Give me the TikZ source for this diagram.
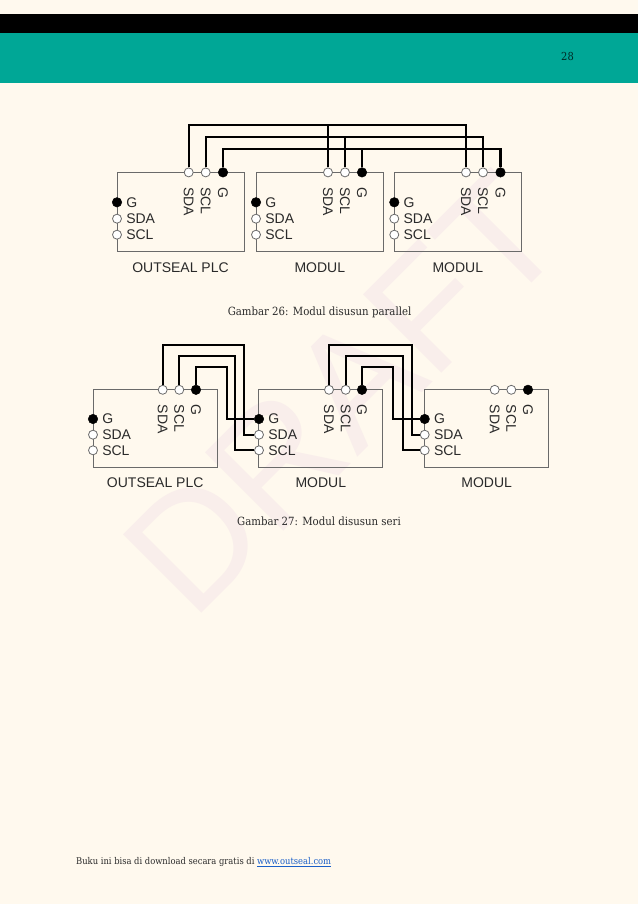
\documentclass[tikz,border=0pt]{standalone}
\usepackage{fontspec}
\usepackage{xcolor}
\usepackage{tikz}
\usetikzlibrary{positioning}
\setmainfont{Liberation Sans}
\newfontfamily\capfont{DejaVu Serif Condensed}
\definecolor{paper}{HTML}{FFF9EE}
\definecolor{band}{HTML}{00A796}
\definecolor{mark}{HTML}{F9EEEB}
\definecolor{ink}{HTML}{2A2A2A}
\definecolor{edge}{HTML}{6A6A6A}
\definecolor{linkblue}{HTML}{1A5FC8}

\tikzset{
  unit/.style={draw=edge, line width=1pt, inner sep=0pt, minimum height=79.5pt},
  pinon/.style={circle, draw=black, fill=black, line width=0.5pt, inner sep=0pt, minimum size=9.5pt},
  pinoff/.style={circle, draw=edge, fill=white, line width=0.8pt, inner sep=0pt, minimum size=9pt},
  side/.style={text=ink, font=\fontsize{14}{14}\selectfont, inner sep=0pt},
  top/.style={anchor=west, rotate=-90, text=ink, font=\fontsize{14}{14}\selectfont, inner sep=0pt},
  title/.style={text=ink, font=\fontsize{14}{14}\selectfont, inner sep=0pt},
  wire/.style={draw=black, line width=2.2pt},
  caption/.style={text=ink, font=\capfont\fontsize{11.3}{11.3}\selectfont, inner sep=0pt}
}

\begin{document}
\begin{tikzpicture}[x=1pt, y=-1pt, label distance=4.2pt]
  \useasboundingbox (0,0) rectangle (638,904);
  \fill[paper] (0,0) rectangle (638,904);
  \fill[black] (0,13.6) rectangle (638,33.4);
  \fill[band] (0,33.4) rectangle (638,83.3);
  \node[inner sep=0pt, text=mark, rotate=45, anchor=base west, font=\fontsize{161}{161}\selectfont] (draft) at (192.5,622.5) {DRAFT};
  \node[inner sep=0pt, text=black!75!band, font=\capfont\fontsize{11}{11}\selectfont] (page) at (567.5,56) {28};

  % parallel
  \node[unit, minimum width=127pt] (P) at (180.5,212.2) {};
  \node[unit, minimum width=127.5pt] (M1) at (319.8,212.2) {};
  \node[unit, minimum width=127pt] (M2) at (457.8,212.2) {};
  \node[title, below=10pt of P] (Pname) {OUTSEAL PLC};
  \node[title, below=10pt of M1] (M1name) {MODUL};
  \node[title, below=10pt of M2] (M2name) {MODUL};

  \node[pinoff] (Pa) at (188.7,172.4) {};
  \node[pinoff] (Pc) at (205.7,172.4) {};
  \node[pinon] (Pg) at (223,172.4) {};
  \node[top] (Pat) at (188.7,187.3) {SDA};
  \node[top] (Pct) at (205.7,187.3) {SCL};
  \node[top] (Pgt) at (223,187.3) {G};
  \node[pinon, label={[side]right:G}] (Plg) at (117,202.3) {};
  \node[pinoff, label={[side]right:SDA}] (Pla) at (117,218.7) {};
  \node[pinoff, label={[side]right:SCL}] (Plc) at (117,234.7) {};

  \node[pinoff] (M1a) at (328,172.4) {};
  \node[pinoff] (M1c) at (345,172.4) {};
  \node[pinon] (M1g) at (362,172.4) {};
  \node[top] (M1at) at (328,187.3) {SDA};
  \node[top] (M1ct) at (345,187.3) {SCL};
  \node[top] (M1gt) at (362,187.3) {G};
  \node[pinon, label={[side]right:G}] (M1lg) at (256,202.3) {};
  \node[pinoff, label={[side]right:SDA}] (M1la) at (256,218.7) {};
  \node[pinoff, label={[side]right:SCL}] (M1lc) at (256,234.7) {};

  \node[pinoff] (M2a) at (466,172.4) {};
  \node[pinoff] (M2c) at (483,172.4) {};
  \node[pinon] (M2g) at (500.5,172.4) {};
  \node[top] (M2at) at (466,187.3) {SDA};
  \node[top] (M2ct) at (483,187.3) {SCL};
  \node[top] (M2gt) at (500.5,187.3) {G};
  \node[pinon, label={[side]right:G}] (M2lg) at (394.3,202.3) {};
  \node[pinoff, label={[side]right:SDA}] (M2la) at (394.3,218.7) {};
  \node[pinoff, label={[side]right:SCL}] (M2lc) at (394.3,234.7) {};

  \coordinate (busa) at (328,124.7);
  \coordinate (busc) at (345,137);
  \coordinate (busg) at (362,149.3);
  \draw[wire] (Pa) |- (busa) -| (M2a);
  \draw[wire] (Pc) |- (busc) -| (M2c);
  \draw[wire] (Pg) |- (busg) -| (M2g);
  \draw[wire] (M1a) -- (busa);
  \draw[wire] (M1c) -- (busc);
  \draw[wire] (M1g) -- (busg);

  \node[caption] (cap26) at (319.5,312.5) {Gambar 26: Modul disusun parallel};

  % seri
  \node[unit, minimum width=124.3pt, minimum height=77.3pt] (S) at (155.2,428.4) {};
  \node[unit, minimum width=123.7pt, minimum height=77.3pt] (N1) at (320.8,428.4) {};
  \node[unit, minimum width=124pt, minimum height=77.3pt] (N2) at (486.7,428.4) {};
  \node[title, below=10pt of S] (Sname) {OUTSEAL PLC};
  \node[title, below=10pt of N1] (N1name) {MODUL};
  \node[title, below=10pt of N2] (N2name) {MODUL};

  \node[pinoff] (Sa) at (162.7,389.8) {};
  \node[pinoff] (Sc) at (179.3,389.8) {};
  \node[pinon] (Sg) at (196,389.8) {};
  \node[top] (Sat) at (162.7,404.5) {SDA};
  \node[top] (Sct) at (179.3,404.5) {SCL};
  \node[top] (Sgt) at (196,404.5) {G};
  \node[pinon, label={[side]right:G}] (Slg) at (93,419) {};
  \node[pinoff, label={[side]right:SDA}] (Sla) at (93,434.7) {};
  \node[pinoff, label={[side]right:SCL}] (Slc) at (93,450.3) {};

  \node[pinoff] (N1a) at (329,389.8) {};
  \node[pinoff] (N1c) at (345.7,389.8) {};
  \node[pinon] (N1g) at (362,389.8) {};
  \node[top] (N1at) at (329,404.5) {SDA};
  \node[top] (N1ct) at (345.7,404.5) {SCL};
  \node[top] (N1gt) at (362,404.5) {G};
  \node[pinon, label={[side]right:G}] (N1lg) at (259,419) {};
  \node[pinoff, label={[side]right:SDA}] (N1la) at (259,434.7) {};
  \node[pinoff, label={[side]right:SCL}] (N1lc) at (259,450.3) {};

  \node[pinoff] (N2a) at (494.7,389.8) {};
  \node[pinoff] (N2c) at (511.3,389.8) {};
  \node[pinon] (N2g) at (528,389.8) {};
  \node[top] (N2at) at (494.7,404.5) {SDA};
  \node[top] (N2ct) at (511.3,404.5) {SCL};
  \node[top] (N2gt) at (528,404.5) {G};
  \node[pinon, label={[side]right:G}] (N2lg) at (424.7,419) {};
  \node[pinoff, label={[side]right:SDA}] (N2la) at (424.7,434.7) {};
  \node[pinoff, label={[side]right:SCL}] (N2lc) at (424.7,450.3) {};

  \coordinate (sa) at (243.7,345.3);
  \coordinate (sc) at (235,355.7);
  \coordinate (sg) at (227.3,366.7);
  \draw[wire] (Sa) |- (sa) |- (N1la);
  \draw[wire] (Sc) |- (sc) |- (N1lc);
  \draw[wire] (Sg) |- (sg) |- (N1lg);
  \coordinate (na) at (411.7,345.3);
  \coordinate (nc) at (403,355.7);
  \coordinate (ng) at (393,366.7);
  \draw[wire] (N1a) |- (na) |- (N2la);
  \draw[wire] (N1c) |- (nc) |- (N2lc);
  \draw[wire] (N1g) |- (ng) |- (N2lg);

  \node[caption] (cap27) at (319,521.5) {Gambar 27: Modul disusun seri};
  \node[inner sep=0pt, anchor=west, text=ink, font=\capfont\fontsize{9.3}{9.3}\selectfont] (foot) at (76,862.5) {Buku ini bisa di download secara gratis di \textcolor{linkblue}{\underline{www.outseal.com}}};
\end{tikzpicture}
\end{document}
